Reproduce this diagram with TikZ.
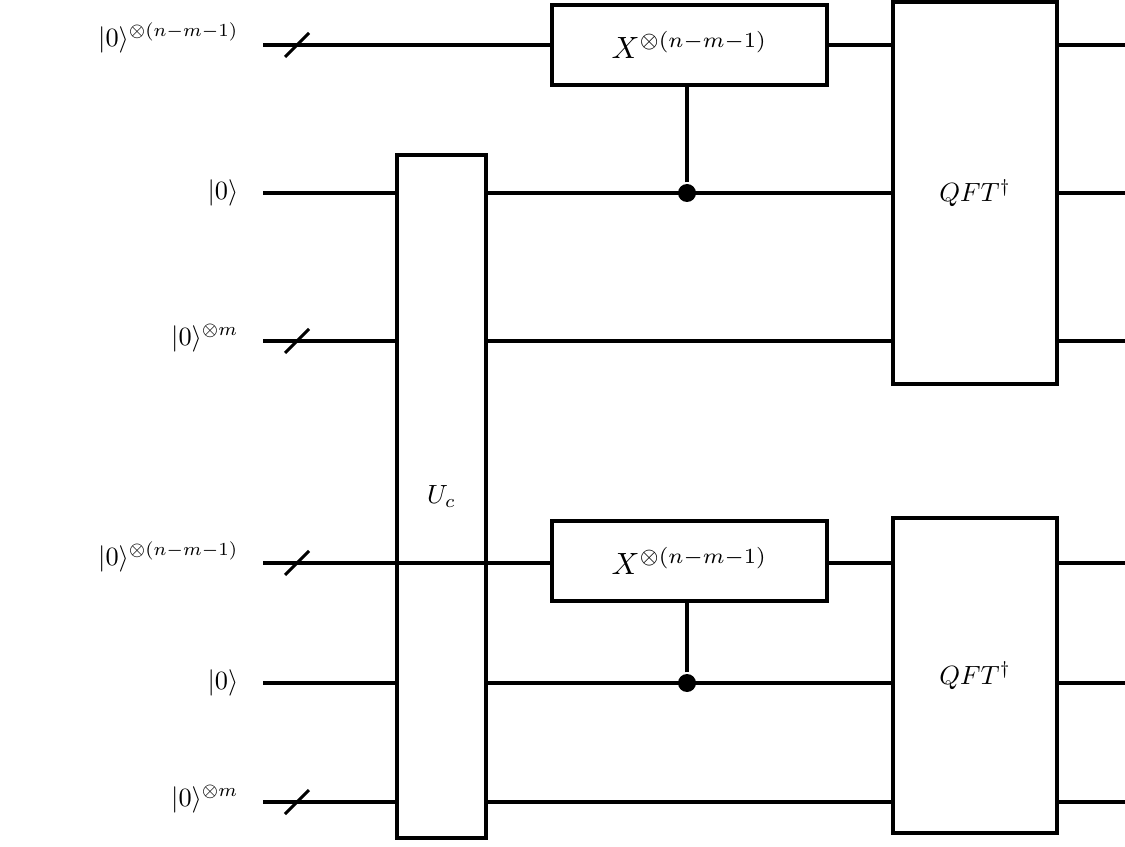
\documentclass[tikz,border=0pt]{standalone}
\usetikzlibrary{calc}
\begin{document}
\begin{tikzpicture}[x=0.02cm,y=-0.02cm,line width=1.8pt,
  box/.style={draw,fill=white,line width=1.8pt,inner sep=0pt},
  lab/.style={anchor=east,inner sep=0pt},
  ctl/.style={circle,fill=black,inner sep=0pt,minimum size=0.36cm}]
\newcommand{\bigt}[1]{\scalebox{1.5}{#1}}
\useasboundingbox (0,0) rectangle (1125,847);
% wires
\foreach \n/\y in {a/45,b/193,c/341,d/563,e/683,f/802}{
  \coordinate (s\n) at (263,\y); \coordinate (t\n) at (1125,\y);
}
\foreach \n in {a,b,c,e,f}{\draw (s\n) -- (t\n);}
% slashes
\foreach \n in {a,c,d,f}{\draw ($(s\n)+(22,12)$) -- ($(s\n)+(46,-12)$);}
% labels
\node[lab] at (240,38) {\bigt{$|0\rangle^{\otimes(n-m-1)}$}};
\node[lab] at (240,193) {\bigt{$|0\rangle$}};
\node[lab] at (240,338) {\bigt{$|0\rangle^{\otimes m}$}};
\node[lab] at (240,557) {\bigt{$|0\rangle^{\otimes(n-m-1)}$}};
\node[lab] at (240,683) {\bigt{$|0\rangle$}};
\node[lab] at (240,799) {\bigt{$|0\rangle^{\otimes m}$}};
% Uc
\node[box,minimum width=1.78cm,minimum height=13.66cm] (U) at (441.5,496.5) {\bigt{$U_c$}};
\draw (sd) -- (td);
% X gates
\node[box,minimum width=5.5cm,minimum height=1.6cm] (X1) at (689.5,45) {\scalebox{1.75}{$X^{\otimes(n-m-1)}$}};
\node[box,minimum width=5.5cm,minimum height=1.6cm] (X2) at (689.5,561) {\scalebox{1.75}{$X^{\otimes(n-m-1)}$}};
\node[ctl] (c1) at (687,193) {};
\node[ctl] (c2) at (687,683) {};
\draw (c1) -- (X1.south -| c1);
\draw (c2) -- (X2.south -| c2);
% QFT
\node[box,minimum width=3.28cm,minimum height=7.64cm] (Q1) at (975,193) {\bigt{$QFT^\dagger$}};
\node[box,minimum width=3.28cm,minimum height=6.3cm] (Q2) at (975,675.5) {\bigt{$QFT^\dagger$}};
\end{tikzpicture}
\end{document}
